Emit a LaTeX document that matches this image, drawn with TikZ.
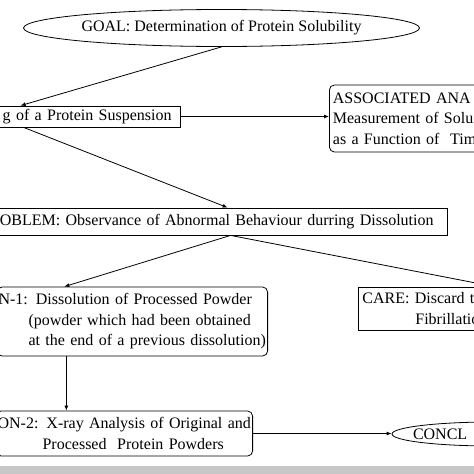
\documentclass[tikz,border=0pt]{standalone}
\usepackage{fontspec}
\setmainfont{Liberation Serif}
\usetikzlibrary{arrows.meta, calc, positioning, shapes.geometric}

\begin{document}
\begin{tikzpicture}[x=1pt, y=-1pt,
	every node/.style={font=\fontsize{16}{20.5}\selectfont, line width=0.8pt},
	box/.style={draw, rectangle, inner ysep=0pt},
	rbox/.style={box, rounded corners=5pt},
	oval/.style={draw, ellipse, inner sep=0pt},
	arr/.style={-{Latex[length=5pt,width=4pt]}, line width=0.8pt}]
			\useasboundingbox (0,0) rectangle (474,474);
			\clip (0,0) rectangle (474,474);
			\fill[black!22] (0,466) rectangle (474,474);
			\node[oval, minimum width=373pt, minimum height=37pt] (goal) at (221.5,28) {GOAL: Determination of Protein Solubility};
			\node[box, anchor=east, text width=200pt, align=right, inner xsep=9pt, minimum height=21pt] (susp) at (181,116.5) {g of a Protein Suspension};
			\node[rbox, anchor=west, text width=220pt, align=left, inner xsep=3.5pt, minimum height=67pt] (assoc) at (329,118.5) {ASSOCIATED ANA\\Measurement of Solu\\as a Function of\ \ Tim};
			\node[box, anchor=east, text width=480pt, align=right, inner xsep=14pt, minimum height=27pt] (prob) at (448,221.5) {OBLEM: Observance of Abnormal Behaviour durring Dissolution};
			\node[rbox, anchor=east, text width=267.5pt, align=left, inner xsep=1.5pt, minimum height=69pt] (sol1) at (268,321.5) {\mbox{N-1: Dissolution of Processed Powder}\\\mbox{\hspace*{30pt}(powder which had been obtained}\\\mbox{\hspace*{30pt}at the end of a previous dissolution)}};
			\node[box, anchor=west, text width=200pt, align=left, inner xsep=4pt, minimum height=43pt] (care) at (358,308.5) {CARE: Discard t\\\hspace*{53pt}Fibrillatio};
			\node[rbox, anchor=east, text width=253.5pt, align=left, inner xsep=1.5pt, minimum height=45pt] (sol2) at (253,433.5) {\mbox{ON-2: X-ray Analysis of Original and}\\\mbox{\hspace*{45pt}Processed\ \ Protein Powders}};
			\node[oval, minimum width=200pt, minimum height=24pt, label={[anchor=west, inner sep=0pt, xshift=21pt]west:CONCL}] (concl) at (492,434) {};
			\draw[arr] (goal.south) -- ([xshift=-51pt]susp.north);
			\draw[arr] (susp.east) -- (susp.east -| assoc.west);
			\draw[arr] ([xshift=-48pt]susp.south) -- ([xshift=34pt]prob.north);
			\draw[arr] ([xshift=37pt]prob.south) -- ([xshift=-68pt]sol1.north);
			\draw[arr] ([xshift=37pt]prob.south) -- ([xshift=32pt]care.north);
			\draw[arr] ([xshift=-66pt]sol1.south) -- ([xshift=-58pt]sol2.north);
			\draw[arr] (sol2.east) -- (sol2.east -| concl.west);
\end{tikzpicture}
\end{document}
